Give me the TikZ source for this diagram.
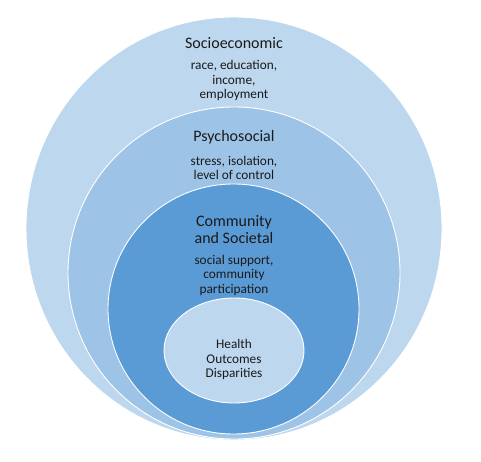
\documentclass[tikz,border=0pt]{standalone}
\usepackage{fontspec}
\setmainfont{Carlito}
\definecolor{ringA}{HTML}{BDD7EE}
\definecolor{ringB}{HTML}{9DC3E6}
\definecolor{ringC}{HTML}{5B9BD5}
\definecolor{inkdark}{HTML}{1A1A1A}
\tikzset{
  ring/.style={draw=white, line width=0.9pt},
  heading/.style={text=inkdark, align=center, font=\fontsize{16}{17.5}\selectfont, inner sep=0pt},
  detail/.style={text=inkdark, align=center, font=\fontsize{13.3}{14.5}\selectfont, inner sep=0pt}
}
\begin{document}
\begin{tikzpicture}[x=1pt, y=-1pt]
\useasboundingbox (0,0) rectangle (481,462);

% nested levels, outermost first
\draw[ring, fill=ringA] (234,228.5) ellipse (208 and 211.5);
\draw[ring, fill=ringB] (234,273) ellipse (166 and 166);
\draw[ring, fill=ringC] (233.5,309) ellipse (125.5 and 125);
\draw[ring, fill=ringA] (234,350.5) ellipse (70 and 52.5);

% labels
\node[heading] (socio) at (234,43) {Socioeconomic};
\node[detail] (sociodet) at (234,80.5) {race, education,\\income,\\employment};

\node[heading] (psycho) at (234,137) {Psychosocial};
\node[detail] (psychodet) at (234,168) {stress, isolation,\\level of control};

\node[heading] (comm) at (234,229.5) {Community\\and Societal};
\node[detail] (commdet) at (234,275) {social support,\\community\\participation};

\node[detail] (health) at (234,359.5) {Health\\Outcomes\\Disparities};

\end{tikzpicture}
\end{document}
